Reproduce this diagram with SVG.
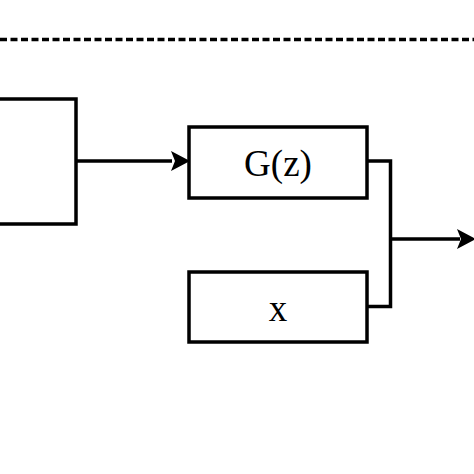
<svg xmlns="http://www.w3.org/2000/svg" width="474" height="474" viewBox="0 0 474 474">
<defs>
<style>
.box{fill:#fff;stroke:#000;stroke-width:3.5}
.ln{fill:none;stroke:#000;stroke-width:3.5}
.ah{fill:#000}
.lbl{font-family:"Liberation Serif","Times New Roman",serif;font-size:37px;fill:#000;text-anchor:middle}
</style>
</defs>
<line x1="0" y1="39.5" x2="474" y2="39.5" stroke="#000" stroke-width="3.5" stroke-dasharray="7 3.5"/>
<g id="source"><rect class="box" x="-10" y="99" width="86" height="125"/></g>
<g id="gz"><rect class="box" x="189" y="127" width="178" height="71"/><text class="lbl" x="278" y="176">G(z)</text></g>
<g id="xbox"><rect class="box" x="189" y="272" width="178" height="70"/><text class="lbl" x="278" y="321">x</text></g>
<g id="connectors">
<path class="ln" d="M76,161 H172"/>
<path class="ah" d="M190,161 L171,151 L175,161 L171,171 Z"/>
<path class="ln" d="M367,161 H390.5 V306.5 H367"/>
<path class="ln" d="M390.5,239 H460"/>
<path class="ah" d="M476,239 L457,229 L461,239 L457,249 Z"/>
</g>
</svg>
